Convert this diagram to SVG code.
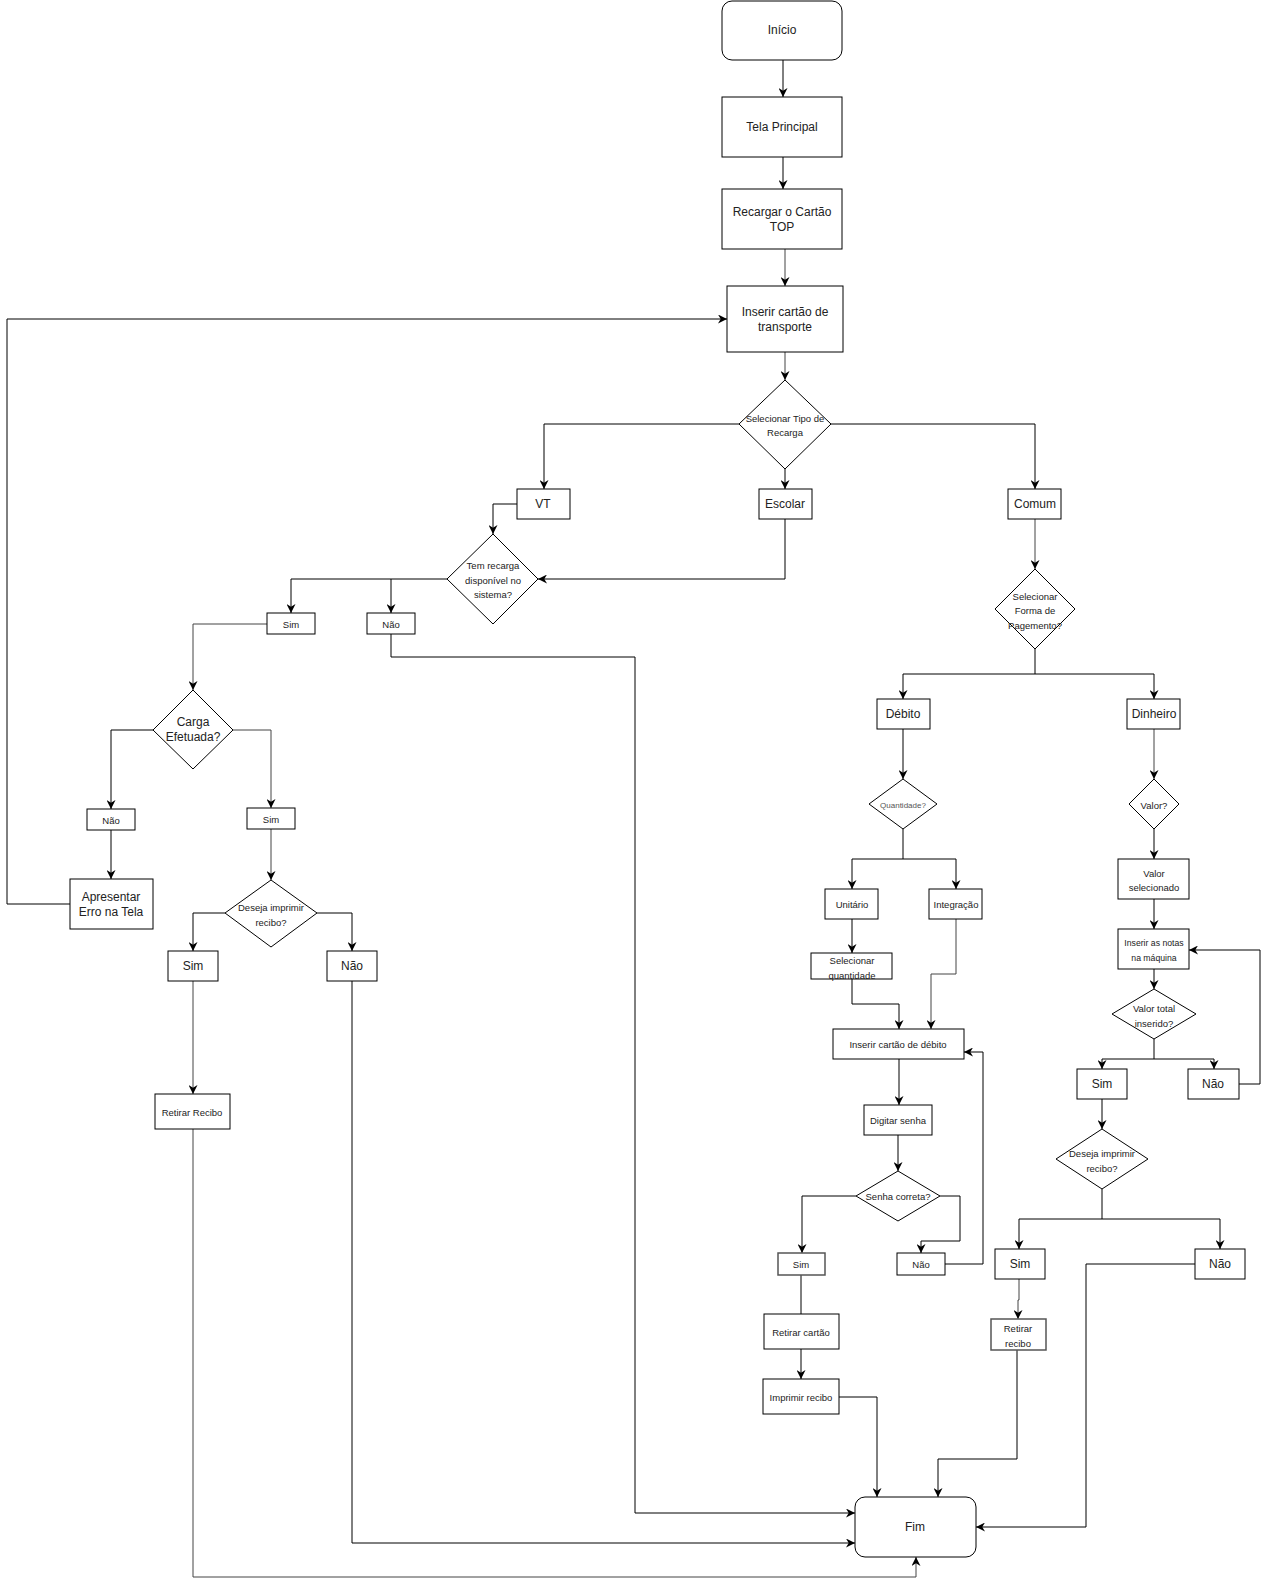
<svg xmlns="http://www.w3.org/2000/svg" width="1268" height="1586" viewBox="0 0 1268 1586">
<style>
.b{fill:#fff;stroke:#000;stroke-width:1}
.c{fill:none;stroke:#000;stroke-width:1}
.g{fill:none;stroke:#444;stroke-width:1}
text{font-family:"Liberation Sans",Arial,sans-serif;fill:#222;text-anchor:middle;dominant-baseline:central}
.t12{font-size:12px}
.t10{font-size:9.5px}
.t9{font-size:8.7px}
.t8{font-size:8px;fill:#555}
</style>
<defs>
<marker id="a" viewBox="0 0 10 10" refX="10" refY="5" markerWidth="9" markerHeight="9" markerUnits="userSpaceOnUse" orient="auto">
<path d="M0,0 L10,5 L0,10 L3,5 z" fill="#000"/>
</marker>
</defs>
<rect width="1268" height="1586" fill="#fff"/>
<g id="connectors">
<path class="c" d="M783,60 V97" marker-end="url(#a)"/>
<path class="c" d="M783,157 V189" marker-end="url(#a)"/>
<path class="g" d="M785,249 V286" marker-end="url(#a)"/>
<path class="g" d="M785,352 V380" marker-end="url(#a)"/>
<path class="c" d="M739,424 H544 V489" marker-end="url(#a)"/>
<path class="c" d="M785,469 V489" marker-end="url(#a)"/>
<path class="c" d="M831,424 H1035 V489" marker-end="url(#a)"/>
<path class="c" d="M517,504 H493 V534" marker-end="url(#a)"/>
<path class="c" d="M785,519 V579 H538" marker-end="url(#a)"/>
<path class="c" d="M447,579 H291 V613" marker-end="url(#a)"/>
<path class="c" d="M391,579 V613" marker-end="url(#a)"/>
<path class="c" d="M391,634 V657 H635 V1513 H855" marker-end="url(#a)"/>
<path class="g" d="M267,624 H193 V690" marker-end="url(#a)"/>
<path class="c" d="M153,730 H111 V809" marker-end="url(#a)"/>
<path class="g" d="M233,730 H271 V808" marker-end="url(#a)"/>
<path class="c" d="M111,830 V879" marker-end="url(#a)"/>
<path class="c" d="M70,904 H7 V319 H727" marker-end="url(#a)"/>
<path class="g" d="M271,829 V880" marker-end="url(#a)"/>
<path class="c" d="M225,913 H193 V951" marker-end="url(#a)"/>
<path class="c" d="M317,913 H352 V951" marker-end="url(#a)"/>
<path class="g" d="M193,981 V1094" marker-end="url(#a)"/>
<path class="g" d="M193,1129 V1577 H916 V1557" marker-end="url(#a)"/>
<path class="c" d="M352,981 V1543 H855" marker-end="url(#a)"/>
<path class="g" d="M1035,519 V569" marker-end="url(#a)"/>
<path class="c" d="M1035,649 V674 H903 V699" marker-end="url(#a)"/>
<path class="c" d="M1035,674 H1154 V699" marker-end="url(#a)"/>
<path class="c" d="M903,729 V779" marker-end="url(#a)"/>
<path class="g" d="M1154,729 V779" marker-end="url(#a)"/>
<path class="c" d="M903,829 V859 H852 V889" marker-end="url(#a)"/>
<path class="c" d="M903,859 H956 V889" marker-end="url(#a)"/>
<path class="c" d="M1154,829 V859" marker-end="url(#a)"/>
<path class="c" d="M1154,899 V929" marker-end="url(#a)"/>
<path class="c" d="M1154,969 V989" marker-end="url(#a)"/>
<path class="c" d="M1154,1039 V1059 H1102 V1069" marker-end="url(#a)"/>
<path class="c" d="M1154,1059 H1214 V1069" marker-end="url(#a)"/>
<path class="c" d="M1239,1084 H1260 V950 H1189" marker-end="url(#a)"/>
<path class="c" d="M1102,1099 V1129" marker-end="url(#a)"/>
<path class="c" d="M1102,1189 V1219 H1019 V1249" marker-end="url(#a)"/>
<path class="c" d="M1102,1219 H1220 V1249" marker-end="url(#a)"/>
<path class="c" d="M1195,1264 H1086 V1527 H976" marker-end="url(#a)"/>
<path class="g" d="M1019,1279 V1300 H1018 V1319" marker-end="url(#a)"/>
<path class="c" d="M1017,1350 V1459 H938 V1497" marker-end="url(#a)"/>
<path class="c" d="M852,919 V953" marker-end="url(#a)"/>
<path class="c" d="M852,979 V1004 H899 V1029" marker-end="url(#a)"/>
<path class="g" d="M956,919 V974 H931 V1029" marker-end="url(#a)"/>
<path class="c" d="M899,1059 V1105" marker-end="url(#a)"/>
<path class="c" d="M898,1135 V1171" marker-end="url(#a)"/>
<path class="c" d="M856,1196 H802 V1253" marker-end="url(#a)"/>
<path class="c" d="M940,1196 H960 V1241 H921 V1253" marker-end="url(#a)"/>
<path class="c" d="M945,1264 H983 V1052 H964" marker-end="url(#a)"/>
<path class="c" d="M801,1275 V1314"/>
<path class="c" d="M801,1349 V1379" marker-end="url(#a)"/>
<path class="c" d="M839,1397 H877 V1497" marker-end="url(#a)"/>
</g>
<g id="inicio"><rect class="b" x="722" y="1" width="120" height="59" rx="10"/><text class="t12" x="782" y="30">Início</text></g>
<g id="tela-principal"><rect class="b" x="722" y="97" width="120" height="60"/><text class="t12" x="782" y="127">Tela Principal</text></g>
<g id="recargar"><rect class="b" x="722" y="189" width="120" height="60"/><text class="t12" x="782" y="212">Recargar o Cartão</text><text class="t12" x="782" y="227">TOP</text></g>
<g id="inserir-transporte"><rect class="b" x="727" y="286" width="116" height="66"/><text class="t12" x="785" y="312">Inserir cartão de</text><text class="t12" x="785" y="327">transporte</text></g>
<g id="tipo-recarga"><path class="b" d="M785,380 L831,424 L785,469 L739,424 Z"/><text class="t10" x="785" y="418">Selecionar Tipo de</text><text class="t10" x="785" y="432">Recarga</text></g>
<g id="vt"><rect class="b" x="517" y="489" width="53" height="30"/><text class="t12" x="543" y="504">VT</text></g>
<g id="escolar"><rect class="b" x="759" y="489" width="53" height="30"/><text class="t12" x="785" y="504">Escolar</text></g>
<g id="comum"><rect class="b" x="1008" y="489" width="53" height="30"/><text class="t12" x="1035" y="504">Comum</text></g>
<g id="tem-recarga"><path class="b" d="M493,534 L538,579 L493,624 L447,579 Z"/><text class="t10" x="493" y="565">Tem recarga</text><text class="t10" x="493" y="580">disponível no</text><text class="t10" x="493" y="594">sistema?</text></g>
<g id="sim1"><rect class="b" x="267" y="613" width="48" height="21"/><text class="t10" x="291" y="624">Sim</text></g>
<g id="nao1"><rect class="b" x="367" y="613" width="48" height="21"/><text class="t10" x="391" y="624">Não</text></g>
<g id="carga-efetuada"><path class="b" d="M193,690 L233,730 L193,769 L153,730 Z"/><text class="t12" x="193" y="722">Carga</text><text class="t12" x="193" y="737">Efetuada?</text></g>
<g id="nao2"><rect class="b" x="87" y="809" width="48" height="21"/><text class="t10" x="111" y="820">Não</text></g>
<g id="sim2"><rect class="b" x="247" y="808" width="48" height="21"/><text class="t10" x="271" y="819">Sim</text></g>
<g id="apresentar-erro"><rect class="b" x="70" y="879" width="83" height="50"/><text class="t12" x="111" y="897">Apresentar</text><text class="t12" x="111" y="912">Erro na Tela</text></g>
<g id="deseja-imprimir1"><path class="b" d="M271,880 L317,913 L271,947 L225,913 Z"/><text class="t10" x="271" y="907">Deseja imprimir</text><text class="t10" x="271" y="922">recibo?</text></g>
<g id="sim3"><rect class="b" x="168" y="951" width="50" height="30"/><text class="t12" x="193" y="966">Sim</text></g>
<g id="nao3"><rect class="b" x="327" y="951" width="50" height="30"/><text class="t12" x="352" y="966">Não</text></g>
<g id="retirar-recibo1"><rect class="b" x="155" y="1094" width="75" height="35"/><text class="t10" x="192" y="1112">Retirar Recibo</text></g>
<g id="forma-pagamento"><path class="b" d="M1035,569 L1075,609 L1035,649 L995,609 Z"/><text class="t10" x="1035" y="596">Selecionar</text><text class="t10" x="1035" y="610">Forma de</text><text class="t10" x="1035" y="625">Pagemento?</text></g>
<g id="debito"><rect class="b" x="877" y="699" width="53" height="30"/><text class="t12" x="903" y="714">Débito</text></g>
<g id="dinheiro"><rect class="b" x="1127" y="699" width="53" height="30"/><text class="t12" x="1154" y="714">Dinheiro</text></g>
<g id="quantidade"><path class="b" d="M903,779 L937,804 L903,829 L869,804 Z"/><text class="t8" x="903" y="805">Quantidade?</text></g>
<g id="valor"><path class="b" d="M1154,779 L1179,804 L1154,829 L1129,804 Z"/><text class="t10" x="1154" y="805">Valor?</text></g>
<g id="unitario"><rect class="b" x="825" y="889" width="53" height="30"/><text class="t10" x="852" y="904">Unitário</text></g>
<g id="integracao"><rect class="b" x="929" y="889" width="53" height="30"/><text class="t10" x="956" y="904">Integração</text></g>
<g id="valor-selecionado"><rect class="b" x="1118" y="859" width="71" height="40"/><text class="t10" x="1154" y="873">Valor</text><text class="t10" x="1154" y="887">selecionado</text></g>
<g id="selecionar-quantidade"><rect class="b" x="811" y="953" width="81" height="26"/><text class="t10" x="852" y="960">Selecionar</text><text class="t10" x="852" y="975">quantidade</text></g>
<g id="inserir-notas"><rect class="b" x="1118" y="929" width="71" height="40"/><text class="t9" x="1154" y="943">Inserir as notas</text><text class="t9" x="1154" y="958">na máquina</text></g>
<g id="valor-total"><path class="b" d="M1154,989 L1196,1014 L1154,1039 L1112,1014 Z"/><text class="t10" x="1154" y="1008">Valor total</text><text class="t10" x="1154" y="1023">inserido?</text></g>
<g id="inserir-debito"><rect class="b" x="833" y="1029" width="131" height="30"/><text class="t10" x="898" y="1044">Inserir cartão de débito</text></g>
<g id="sim4"><rect class="b" x="1077" y="1069" width="50" height="30"/><text class="t12" x="1102" y="1084">Sim</text></g>
<g id="nao4"><rect class="b" x="1188" y="1069" width="51" height="30"/><text class="t12" x="1213" y="1084">Não</text></g>
<g id="digitar-senha"><rect class="b" x="864" y="1105" width="68" height="30"/><text class="t10" x="898" y="1120">Digitar senha</text></g>
<g id="deseja-imprimir2"><path class="b" d="M1102,1129 L1148,1159 L1102,1189 L1056,1159 Z"/><text class="t10" x="1102" y="1153">Deseja imprimir</text><text class="t10" x="1102" y="1168">recibo?</text></g>
<g id="senha-correta"><path class="b" d="M898,1171 L940,1196 L898,1221 L856,1196 Z"/><text class="t10" x="898" y="1196">Senha correta?</text></g>
<g id="sim6"><rect class="b" x="778" y="1253" width="47" height="22" style="stroke:#555;stroke-width:1.5"/><text class="t10" x="801" y="1264">Sim</text></g>
<g id="nao6"><rect class="b" x="897" y="1253" width="48" height="22"/><text class="t10" x="921" y="1264">Não</text></g>
<g id="sim5"><rect class="b" x="995" y="1249" width="50" height="30"/><text class="t12" x="1020" y="1264">Sim</text></g>
<g id="nao5"><rect class="b" x="1195" y="1249" width="50" height="30"/><text class="t12" x="1220" y="1264">Não</text></g>
<g id="retirar-cartao"><rect class="b" x="764" y="1314" width="75" height="35"/><text class="t10" x="801" y="1332">Retirar cartão</text></g>
<g id="retirar-recibo2"><rect class="b" x="991" y="1319" width="55" height="31" style="stroke:#555;stroke-width:1.5"/><text class="t10" x="1018" y="1328">Retirar</text><text class="t10" x="1018" y="1343">recibo</text></g>
<g id="imprimir-recibo"><rect class="b" x="763" y="1379" width="76" height="35"/><text class="t10" x="801" y="1397">Imprimir recibo</text></g>
<g id="fim"><rect class="b" x="855" y="1497" width="121" height="60" rx="10"/><text class="t12" x="915" y="1527">Fim</text></g>
</svg>
